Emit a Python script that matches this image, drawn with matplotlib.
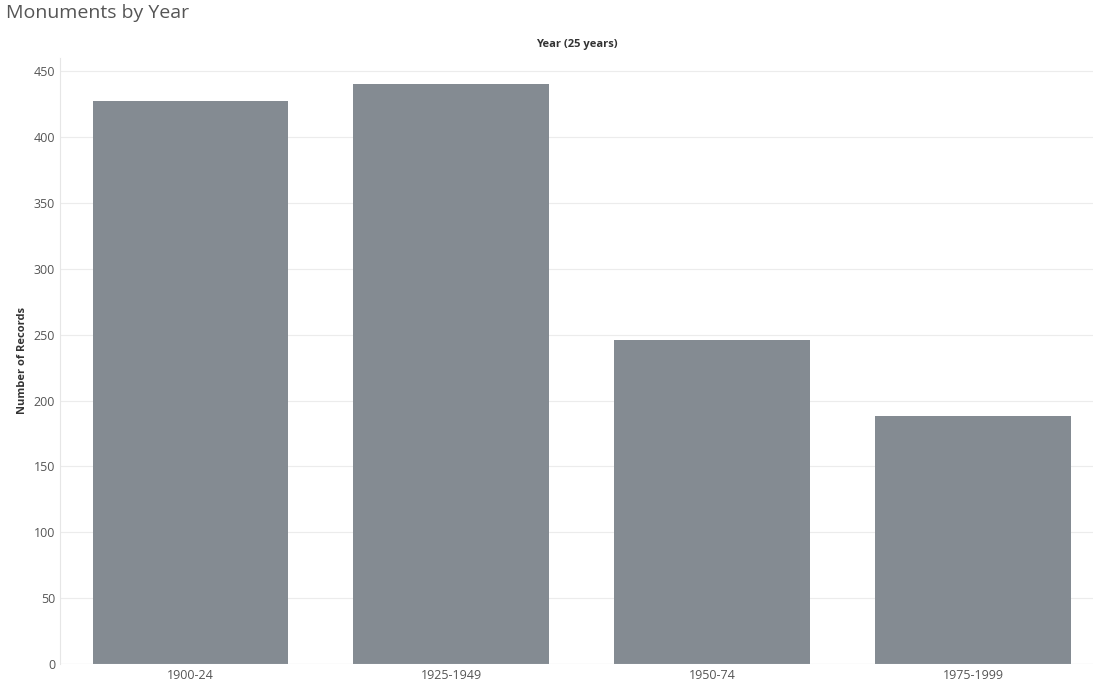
import matplotlib.pyplot as plt

categories = ['1900-24', '1925-1949', '1950-74', '1975-1999']
records = [427, 440, 246, 188]

plt.rcParams['font.family'] = ['Open Sans', 'DejaVu Sans']

W, H = 1093, 695
fig = plt.figure(figsize=(W / 100, H / 100), dpi=100)
ax = fig.add_axes([60 / W, 31 / H, (W - 60) / W, (664 - 58) / H])

x = range(len(categories))
ax.bar(x, records, width=0.75, color='#848b92', zorder=2)
ax.set_xlim(-0.5, 3.46)
ax.set_ylim(0, 460)
ax.set_yticks(range(0, 451, 50))
ax.set_xticks(list(x))
ax.set_xticklabels(categories)
ax.tick_params(axis='both', length=0, labelsize=9, colors='#555555')
ax.yaxis.grid(True, color='#ececec', linewidth=0.8, zorder=0)
for s in ['top', 'right', 'bottom']:
    ax.spines[s].set_visible(False)
ax.spines['left'].set_color('#e6e6e6')
ax.axhline(0, color='#dddddd', linewidth=0.8)
ax.set_ylabel('Number of Records', fontsize=8, color='#333333', fontweight='bold')

fig.text(6 / W, 1 - 13 / H, 'Monuments by Year', fontsize=14, color='#555555', va='center')
fig.text((60 + W) / 2 / W, 1 - 45 / H, 'Year (25 years)', fontsize=8, color='#333333',
         ha='center', va='center', fontweight='bold')

fig.savefig('out.png', dpi=100)
